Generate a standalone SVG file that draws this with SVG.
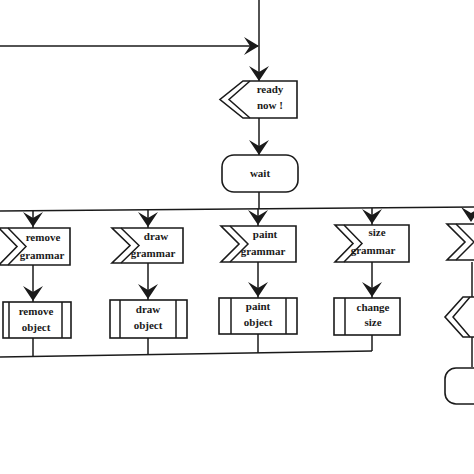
<svg xmlns="http://www.w3.org/2000/svg" xmlns:xlink="http://www.w3.org/1999/xlink" width="474" height="474" viewBox="0 0 474 474">
<style>
.ln{fill:none;stroke:#1a1a1a;stroke-width:1.5}
.bx{fill:#fff;stroke:#1a1a1a;stroke-width:1.6}
.tx{font-family:"Liberation Serif","Times New Roman",serif;font-size:11px;font-weight:bold;fill:#1a1a1a;text-anchor:middle}
</style>
<defs>
<path id="ahd" d="M-10,-15 L0,0 L10,-15 L0,-9 Z" fill="#1a1a1a"/>
<path id="ahr" d="M-15,-9 L0,0 L-15,9 L-9,0 Z" fill="#1a1a1a"/>
</defs>
<rect width="474" height="474" fill="#fff"/>
<g id="connectors">
<line class="ln" x1="259" y1="0" x2="259" y2="81"/>
<line class="ln" x1="0" y1="46" x2="258" y2="46"/>
<use xlink:href="#ahr" x="259" y="46"/>
<use xlink:href="#ahd" x="259" y="81"/>
<line class="ln" x1="259" y1="118" x2="259" y2="155"/>
<use xlink:href="#ahd" x="259" y="155"/>
<line class="ln" x1="259" y1="192" x2="259" y2="209"/>
<line class="ln" x1="0" y1="211" x2="474" y2="207"/>
<line class="ln" x1="33" y1="211" x2="33" y2="228"/>
<use xlink:href="#ahd" x="33" y="227"/>
<line class="ln" x1="148" y1="210" x2="148" y2="228"/>
<use xlink:href="#ahd" x="148" y="227"/>
<line class="ln" x1="258" y1="209" x2="258" y2="226"/>
<use xlink:href="#ahd" x="258" y="225"/>
<line class="ln" x1="372" y1="208" x2="372" y2="225"/>
<use xlink:href="#ahd" x="372" y="224"/>
<use xlink:href="#ahd" x="471" y="222"/>
<line class="ln" x1="33" y1="265" x2="33" y2="302"/>
<use xlink:href="#ahd" x="33" y="301"/>
<line class="ln" x1="148" y1="263" x2="148" y2="300"/>
<use xlink:href="#ahd" x="148" y="299"/>
<line class="ln" x1="258" y1="262" x2="258" y2="298"/>
<use xlink:href="#ahd" x="258" y="297"/>
<line class="ln" x1="372" y1="262" x2="372" y2="298"/>
<use xlink:href="#ahd" x="372" y="297"/>
<line class="ln" x1="33" y1="338" x2="33" y2="357"/>
<line class="ln" x1="148" y1="338" x2="148" y2="355"/>
<line class="ln" x1="258" y1="334" x2="258" y2="353"/>
<line class="ln" x1="372" y1="335" x2="372" y2="351"/>
<line class="ln" x1="0" y1="357" x2="372" y2="351"/>
<line class="ln" x1="472" y1="262" x2="472" y2="297" stroke-width="1"/>
<line class="ln" x1="472" y1="337" x2="472" y2="367" stroke-width="1"/>
</g>
<g id="ready">
<path class="bx" d="M243,81 H297 V118 H243 L220,99.5 Z"/>
<path class="ln" d="M250,81 L229,99.5 L250,118"/>
<text class="tx" x="270" y="93">ready</text>
<text class="tx" x="270" y="109">now !</text>
</g>
<g id="wait">
<rect class="bx" x="222" y="155" width="76" height="37" rx="12"/>
<text class="tx" x="260" y="177">wait</text>
</g>
<g id="remove-grammar">
<path class="bx" d="M-1,228 H70 V265 H-1 L17,246.5 Z"/>
<path class="ln" d="M8,228 L26,246.5 L8,265"/>
<text class="tx" x="43" y="241">remove</text>
<text class="tx" x="42" y="259">grammar</text>
</g>
<g id="draw-grammar">
<path class="bx" d="M112,228 H183 V263 H112 L130,245.5 Z"/>
<path class="ln" d="M121,228 L139,245.5 L121,263"/>
<text class="tx" x="156" y="240">draw</text>
<text class="tx" x="153" y="257">grammar</text>
</g>
<g id="paint-grammar">
<path class="bx" d="M221,226 H296 V262 H221 L239,244 Z"/>
<path class="ln" d="M230,226 L248,244 L230,262"/>
<text class="tx" x="265" y="238">paint</text>
<text class="tx" x="263" y="255">grammar</text>
</g>
<g id="size-grammar">
<path class="bx" d="M335,225 H409 V262 H335 L353,243.5 Z"/>
<path class="ln" d="M344,225 L362,243.5 L344,262"/>
<text class="tx" x="377" y="236">size</text>
<text class="tx" x="373" y="254">grammar</text>
</g>
<g id="right-grammar">
<path class="bx" d="M447,224 H480 V260 H447 L465,242 Z"/>
<path class="ln" d="M456,224 L474,242 L456,260"/>
</g>
<g id="remove-object">
<rect class="bx" x="3" y="302" width="68" height="36"/>
<line class="ln" x1="9" y1="302" x2="9" y2="338"/>
<line class="ln" x1="62" y1="302" x2="62" y2="338"/>
<text class="tx" x="36" y="315">remove</text>
<text class="tx" x="36" y="331">object</text>
</g>
<g id="draw-object">
<rect class="bx" x="110" y="300" width="77" height="38"/>
<line class="ln" x1="120" y1="300" x2="120" y2="338"/>
<line class="ln" x1="176" y1="300" x2="176" y2="338"/>
<text class="tx" x="148" y="313">draw</text>
<text class="tx" x="148" y="329">object</text>
</g>
<g id="paint-object">
<rect class="bx" x="219" y="298" width="78" height="36"/>
<line class="ln" x1="231" y1="298" x2="231" y2="334"/>
<line class="ln" x1="286" y1="298" x2="286" y2="334"/>
<text class="tx" x="258" y="310">paint</text>
<text class="tx" x="258" y="326">object</text>
</g>
<g id="change-size">
<rect class="bx" x="334" y="298" width="66" height="37"/>
<line class="ln" x1="345" y1="298" x2="345" y2="335"/>
<text class="tx" x="373" y="311">change</text>
<text class="tx" x="373" y="326">size</text>
</g>
<g id="right-send">
<path class="bx" d="M463,297 H480 V337 H463 L445,317 Z"/>
<path class="ln" d="M470,297 L453,317 L470,337"/>
</g>
<g id="right-wait">
<rect class="bx" x="445" y="368" width="50" height="36" rx="11"/>
</g>
</svg>
